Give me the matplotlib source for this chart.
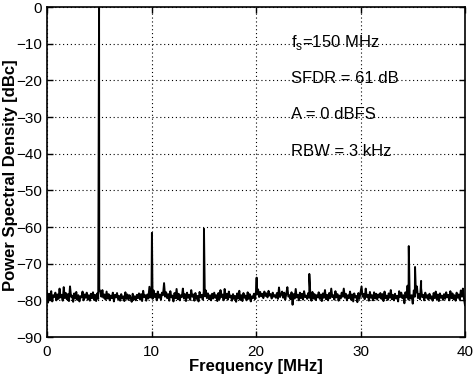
import numpy as np
import matplotlib
matplotlib.use("Agg")
import matplotlib.pyplot as plt

plt.rcParams['font.family'] = ['Liberation Sans', 'DejaVu Sans']

# noise floor, one sample every 0.1 MHz from 0 to 40 MHz (dBc)
floor_db = [
    -77.8, -80.6, -78.2, -79.9, -77.5, -80.3, -78.6, -79.1, -77.9, -80.0, -78.4, -79.6, -76.8, -79.2, -78.5, -80.1, -76.4, -79.4, -78.0, -79.7,
    -78.3, -80.2, -76.2, -79.0, -78.7, -80.4, -78.1, -79.5, -77.7, -79.9, -78.6, -80.3, -78.9, -79.2, -77.6, -80.0, -78.4, -79.3, -77.9, -79.8,
    -78.6, -80.1, -78.2, -79.4, -77.8, -79.9, -78.5, -80.2, -78.1, -79.6, -76.9, -77.6, -79.0, -77.2, -79.3, -78.4, -79.8, -77.6, -79.5, -78.3,
    -80.0, -78.7, -79.4, -77.9, -80.3, -78.5, -79.2, -78.0, -79.7, -78.8, -80.1, -78.3, -79.5, -78.9, -80.2, -77.8, -79.6, -78.4, -79.9, -78.6,
    -79.3, -80.4, -78.2, -79.7, -78.9, -80.0, -78.5, -79.4, -78.1, -79.8, -78.3, -80.2, -77.4, -79.1, -78.6, -80.1, -78.4, -79.5, -76.3, -79.2,
    -78.0, -79.6, -77.3, -79.1, -78.2, -80.0, -77.6, -79.3, -78.4, -79.8, -77.9, -78.6, -75.3, -79.0, -77.8, -79.4, -78.3, -80.1, -77.5, -79.2,
    -78.7, -80.3, -78.0, -79.4, -76.9, -79.7, -78.2, -80.0, -78.6, -79.1, -76.8, -79.5, -78.3, -80.2, -77.9, -79.3, -78.5, -79.9, -77.2, -79.0,
    -78.4, -80.1, -78.0, -79.6, -78.8, -80.3, -77.7, -79.2, -78.5, -79.8, -77.6, -78.9, -77.3, -79.4, -78.1, -79.7, -78.6, -80.0, -78.2, -79.5,
    -77.9, -79.3, -78.6, -80.2, -78.0, -79.7, -77.2, -79.1, -78.4, -80.0, -76.9, -79.4, -78.2, -79.8, -77.6, -79.2, -78.7, -80.1, -78.3, -79.6,
    -78.8, -80.4, -78.1, -79.5, -77.4, -79.9, -78.6, -80.2, -78.0, -79.3, -78.7, -80.0, -77.8, -79.6, -78.3, -80.3, -78.9, -79.4, -78.2, -79.7,
    -77.5, -78.4, -77.0, -79.1, -77.7, -78.9, -78.2, -79.4, -77.6, -78.8, -78.1, -79.2, -77.4, -78.7, -78.3, -79.5, -77.9, -79.0, -78.6, -79.3,
    -78.0, -79.6, -76.5, -79.1, -78.4, -77.6, -79.3, -77.9, -79.8, -78.2, -76.4, -79.0, -78.6, -79.7, -77.8, -81.2, -78.3, -79.5, -76.9, -79.2,
    -78.5, -80.0, -77.9, -79.4, -78.2, -79.8, -77.5, -79.1, -78.7, -79.6, -78.0, -79.3, -78.4, -80.1, -77.7, -79.5, -78.3, -79.9, -78.6, -79.2,
    -77.8, -79.6, -78.4, -80.2, -78.1, -79.3, -77.2, -79.7, -78.5, -80.0, -78.0, -79.4, -76.8, -79.1, -78.6, -79.8, -77.5, -79.2, -78.3, -80.1,
    -78.7, -79.5, -77.9, -79.0, -76.8, -79.3, -78.2, -80.0, -78.6, -79.4, -77.6, -79.8, -78.4, -80.3, -78.1, -79.2, -78.8, -80.5, -78.0, -79.6,
    -77.9, -76.2, -79.0, -78.3, -79.7, -76.8, -79.1, -78.5, -80.1, -77.7, -79.3, -78.6, -80.0, -77.8, -79.5, -78.2, -79.8, -78.4, -79.2, -78.0,
    -79.6, -78.3, -80.2, -77.6, -79.4, -78.7, -79.9, -78.1, -79.3, -77.2, -79.7, -78.5, -80.0, -78.2, -79.5, -78.8, -80.3, -77.5, -79.1, -77.9,
    -79.4, -78.6, -80.8, -77.8, -79.2, -76.0, -79.8, -78.2, -79.5, -78.6, -80.9, -77.3, -79.0, -77.9, -76.2, -79.4, -78.3, -79.7, -76.7, -79.1,
    -78.5, -80.0, -77.9, -79.3, -78.6, -79.8, -78.2, -79.5, -78.9, -80.1, -78.0, -79.4, -77.6, -79.7, -78.4, -80.2, -78.1, -79.3, -78.7, -79.9,
    -78.3, -79.6, -77.8, -79.2, -78.5, -80.0, -77.5, -79.4, -78.1, -79.7, -78.6, -80.1, -77.9, -79.3, -78.4, -79.8, -77.3, -79.0, -76.8, -79.5,
    -81.3,
]

# tones and spurs: frequency (MHz) and peak level (dBc)
spur_freq = [4.98, 10.04, 15.02, 20.06, 25.10, 34.62, 35.22, 35.80]
spur_db = [0.0, -61.6, -60.5, -73.8, -72.8, -65.2, -70.9, -74.7]

notes = [r"f$_\mathregular{s}$=150 MHz", "SFDR = 61 dB", "A = 0 dBFS", "RBW = 3 kHz"]
note_y = [-9.6, -19.6, -29.4, -39.3]

floor_freq = np.linspace(0, 40, len(floor_db))
freq = np.concatenate([floor_freq, spur_freq])
psd = np.concatenate([floor_db, spur_db])
order = np.argsort(freq, kind="stable")
freq, psd = freq[order], psd[order]

fig = plt.figure(figsize=(4.74, 3.76), dpi=100)
ax = fig.add_axes([0.0992, 0.1037, 0.8818, 0.8776])
ax.plot(freq, psd, color="black", lw=1.4)

ax.set_xlim(0, 40)
ax.set_ylim(-90, 0)
ax.set_xticks([0, 10, 20, 30, 40])
ax.set_yticks(np.arange(-90, 1, 10))
ax.grid(True, color="black", linestyle=(0, (1, 2.5)), linewidth=0.8)
ax.tick_params(direction="in", top=True, right=True, length=4, width=1, labelsize=11)
ax.tick_params(axis="x", pad=6)
for s in ax.spines.values():
    s.set_linewidth(1.2)

ax.set_xlabel("Frequency [MHz]", fontsize=12, fontweight="bold", labelpad=0)
ax.set_ylabel("Power Spectral Density [dBc]", fontsize=12, fontweight="bold")
ax.yaxis.set_label_coords(-0.07, 0.49)

for txt, yy in zip(notes, note_y):
    ax.text(23.35, yy, txt, fontsize=12, va="center", ha="left")

fig.savefig("out.png", dpi=100)
